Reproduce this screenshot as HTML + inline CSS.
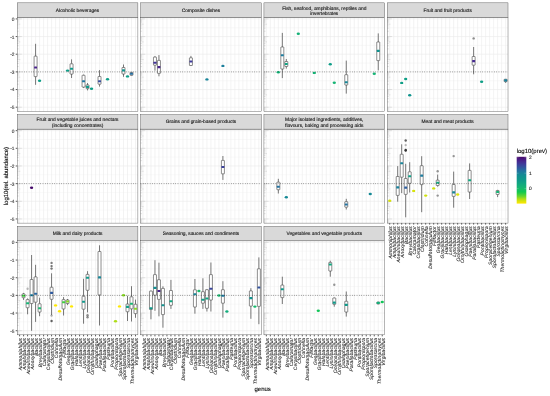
<!DOCTYPE html>
<html lang="en"><head><meta charset="utf-8"><title>log10(rel. abundance) by genus</title>
<style>html,body{margin:0;padding:0;background:#fff}svg{display:block;filter:blur(.2px)}text{font-family:"Liberation Sans",Arial,Helvetica,sans-serif;fill:#000;text-rendering:geometricPrecision}.st{font-size:4.85px;fill:#1a1a1a;stroke:#1a1a1a;stroke-width:.13;text-anchor:middle}.yt{font-size:4.8px;fill:#444;stroke:#444;stroke-width:.13;text-anchor:end}.xt{font-size:4.9px;letter-spacing:.14px;font-style:italic;fill:#222;stroke:#222;stroke-width:.07;text-anchor:end}.at{font-size:6px;text-anchor:middle;stroke:#000;stroke-width:.1}.lt{font-size:6px;stroke:#000;stroke-width:.1}.ll{font-size:4.8px;fill:#111;stroke:#111;stroke-width:.08}.gM{stroke:#ebebeb;stroke-width:.58}.gm{stroke:#ebebeb;stroke-width:.29}.bx{fill:#fff;stroke:#333;stroke-width:.56}.wh{stroke:#333;stroke-width:.66}.tk{stroke:#333;stroke-width:.8}.lg{stroke:#bdbdbd;stroke-width:.4}</style></head><body>
<svg width="550" height="396" viewBox="0 0 550 396">
<rect width="550" height="396" fill="#fff"/>
<defs><linearGradient id="vg" x1="0" y1="0" x2="0" y2="1">
<stop offset="0.00" stop-color="#45096a"/>
<stop offset="0.05" stop-color="#491981"/>
<stop offset="0.10" stop-color="#462990"/>
<stop offset="0.15" stop-color="#3f3a9a"/>
<stop offset="0.20" stop-color="#364c9d"/>
<stop offset="0.25" stop-color="#2d5e9f"/>
<stop offset="0.30" stop-color="#2372a0"/>
<stop offset="0.35" stop-color="#1a819b"/>
<stop offset="0.40" stop-color="#128e92"/>
<stop offset="0.45" stop-color="#10948d"/>
<stop offset="0.50" stop-color="#0f9a8a"/>
<stop offset="0.55" stop-color="#10a384"/>
<stop offset="0.60" stop-color="#12ac7c"/>
<stop offset="0.65" stop-color="#16b474"/>
<stop offset="0.70" stop-color="#15be64"/>
<stop offset="0.75" stop-color="#10c850"/>
<stop offset="0.80" stop-color="#3ccf3e"/>
<stop offset="0.85" stop-color="#6dd62c"/>
<stop offset="0.90" stop-color="#aedd18"/>
<stop offset="0.95" stop-color="#dde30a"/>
<stop offset="1.00" stop-color="#ffe800"/>
</linearGradient></defs>
<g>
<rect x="17.20" y="17.35" width="120.70" height="94.00" fill="#fff"/>
<path class="gm" d="M17.20 27.73h120.70M17.20 45.39h120.70M17.20 63.05h120.70M17.20 80.71h120.70M17.20 98.37h120.70"/>
<path class="gM" d="M17.20 18.90h120.70M17.20 36.56h120.70M17.20 54.22h120.70M17.20 71.88h120.70M17.20 89.54h120.70M17.20 107.20h120.70M19.60 17.35v94.00M23.59 17.35v94.00M27.59 17.35v94.00M31.59 17.35v94.00M35.58 17.35v94.00M39.58 17.35v94.00M43.58 17.35v94.00M47.57 17.35v94.00M51.57 17.35v94.00M55.57 17.35v94.00M59.56 17.35v94.00M63.56 17.35v94.00M67.56 17.35v94.00M71.55 17.35v94.00M75.55 17.35v94.00M79.55 17.35v94.00M83.55 17.35v94.00M87.54 17.35v94.00M91.54 17.35v94.00M95.54 17.35v94.00M99.53 17.35v94.00M103.53 17.35v94.00M107.53 17.35v94.00M111.52 17.35v94.00M115.52 17.35v94.00M119.52 17.35v94.00M123.51 17.35v94.00M127.51 17.35v94.00M131.51 17.35v94.00M135.50 17.35v94.00"/>
<path class="lg" d="M17.20 18.90h4.60M17.20 31.24h1.55M17.20 28.13h1.55M17.20 25.93h1.55M17.20 24.22h3.10M17.20 22.82h1.55M17.20 21.64h1.55M17.20 20.61h1.55M17.20 19.71h1.55M17.20 36.56h4.60M17.20 48.90h1.55M17.20 45.79h1.55M17.20 43.59h1.55M17.20 41.88h3.10M17.20 40.48h1.55M17.20 39.30h1.55M17.20 38.27h1.55M17.20 37.37h1.55M17.20 54.22h4.60M17.20 66.56h1.55M17.20 63.45h1.55M17.20 61.25h1.55M17.20 59.54h3.10M17.20 58.14h1.55M17.20 56.96h1.55M17.20 55.93h1.55M17.20 55.03h1.55M17.20 71.88h4.60M17.20 84.22h1.55M17.20 81.11h1.55M17.20 78.91h1.55M17.20 77.20h3.10M17.20 75.80h1.55M17.20 74.62h1.55M17.20 73.59h1.55M17.20 72.69h1.55M17.20 89.54h4.60M17.20 101.88h1.55M17.20 98.77h1.55M17.20 96.57h1.55M17.20 94.86h3.10M17.20 93.46h1.55M17.20 92.28h1.55M17.20 91.25h1.55M17.20 90.35h1.55M17.20 107.20h4.60M17.20 111.12h1.55M17.20 109.94h1.55M17.20 108.91h1.55M17.20 108.01h1.55"/>
<path class="wh" d="M35.58 43.80V56.20M35.58 76.60V84.80"/>
<rect class="bx" x="34.08" y="56.20" width="3.00" height="20.40" rx=".3"/>
<rect x="34.13" y="66.45" width="2.90" height="2.1" rx=".5" fill="#49228c"/>
<ellipse cx="39.58" cy="80.80" rx="1.65" ry="1.2" fill="#0f9e88"/>
<ellipse cx="67.56" cy="70.60" rx="1.65" ry="1.2" fill="#0f9e88"/>
<path class="wh" d="M71.55 59.40V63.80M71.55 74.10V78.00"/>
<rect class="bx" x="70.05" y="63.80" width="3.00" height="10.30" rx=".3"/>
<rect x="70.10" y="67.65" width="2.90" height="2.1" rx=".5" fill="#0f9a8a"/>
<path class="wh" d="M83.55 74.60V75.30M83.55 87.10V87.80"/>
<rect class="bx" x="82.05" y="75.30" width="3.00" height="11.80" rx=".3"/>
<rect x="82.10" y="80.25" width="2.90" height="2.1" rx=".5" fill="#2176a0"/>
<path class="wh" d="M87.54 83.00V84.90M87.54 88.60V90.40"/>
<rect class="bx" x="86.04" y="84.90" width="3.00" height="3.70" rx=".3"/>
<rect x="86.09" y="85.85" width="2.90" height="2.1" rx=".5" fill="#0f9a8a"/>
<ellipse cx="91.54" cy="88.80" rx="1.65" ry="1.2" fill="#0f9e88"/>
<path class="wh" d="M99.53 70.10V76.50M99.53 84.20V86.60"/>
<rect class="bx" x="98.03" y="76.50" width="3.00" height="7.70" rx=".3"/>
<rect x="98.08" y="80.15" width="2.90" height="2.1" rx=".5" fill="#364c9d"/>
<ellipse cx="107.53" cy="79.30" rx="1.65" ry="1.2" fill="#0f9e88"/>
<path class="wh" d="M123.51 64.50V67.50M123.51 74.00V76.80"/>
<rect class="bx" x="122.01" y="67.50" width="3.00" height="6.50" rx=".3"/>
<rect x="122.06" y="69.35" width="2.90" height="2.1" rx=".5" fill="#10948d"/>
<ellipse cx="127.51" cy="76.40" rx="1.65" ry="1.2" fill="#0f9e88"/>
<path class="wh" d="M131.51 72.00V72.40M131.51 75.30V75.70"/>
<rect class="bx" x="130.01" y="72.40" width="3.00" height="2.90" rx=".3"/>
<rect x="130.06" y="72.65" width="2.90" height="2.1" rx=".5" fill="#256ea0"/>
<path d="M17.20 71.88h120.70" stroke="#000" stroke-width=".58" stroke-dasharray=".58 1.74" fill="none"/>
<rect x="17.20" y="17.35" width="120.70" height="94.00" fill="none" stroke="#333" stroke-width=".36"/>
<rect x="17.20" y="2.85" width="120.70" height="14.50" fill="#d9d9d9" stroke="#333" stroke-width=".36"/>
<text class="st" x="77.55" y="11.70">Alcoholic beverages</text>
<text class="yt" x="14.50" y="20.85">0</text>
<text class="yt" x="14.50" y="38.51">-1</text>
<text class="yt" x="14.50" y="56.17">-2</text>
<text class="yt" x="14.50" y="73.83">-3</text>
<text class="yt" x="14.50" y="91.49">-4</text>
<text class="yt" x="14.50" y="109.15">-5</text>
<path class="tk" d="M17.20 18.90h-1.5M17.20 36.56h-1.5M17.20 54.22h-1.5M17.20 71.88h-1.5M17.20 89.54h-1.5M17.20 107.20h-1.5"/>
</g>
<g>
<rect x="140.57" y="17.35" width="120.70" height="94.00" fill="#fff"/>
<path class="gm" d="M140.57 27.73h120.70M140.57 45.39h120.70M140.57 63.05h120.70M140.57 80.71h120.70M140.57 98.37h120.70"/>
<path class="gM" d="M140.57 18.90h120.70M140.57 36.56h120.70M140.57 54.22h120.70M140.57 71.88h120.70M140.57 89.54h120.70M140.57 107.20h120.70M142.97 17.35v94.00M146.96 17.35v94.00M150.96 17.35v94.00M154.96 17.35v94.00M158.95 17.35v94.00M162.95 17.35v94.00M166.95 17.35v94.00M170.94 17.35v94.00M174.94 17.35v94.00M178.94 17.35v94.00M182.93 17.35v94.00M186.93 17.35v94.00M190.93 17.35v94.00M194.92 17.35v94.00M198.92 17.35v94.00M202.92 17.35v94.00M206.92 17.35v94.00M210.91 17.35v94.00M214.91 17.35v94.00M218.91 17.35v94.00M222.90 17.35v94.00M226.90 17.35v94.00M230.90 17.35v94.00M234.89 17.35v94.00M238.89 17.35v94.00M242.89 17.35v94.00M246.88 17.35v94.00M250.88 17.35v94.00M254.88 17.35v94.00M258.87 17.35v94.00"/>
<path class="lg" d="M140.57 18.90h4.60M140.57 31.24h1.55M140.57 28.13h1.55M140.57 25.93h1.55M140.57 24.22h3.10M140.57 22.82h1.55M140.57 21.64h1.55M140.57 20.61h1.55M140.57 19.71h1.55M140.57 36.56h4.60M140.57 48.90h1.55M140.57 45.79h1.55M140.57 43.59h1.55M140.57 41.88h3.10M140.57 40.48h1.55M140.57 39.30h1.55M140.57 38.27h1.55M140.57 37.37h1.55M140.57 54.22h4.60M140.57 66.56h1.55M140.57 63.45h1.55M140.57 61.25h1.55M140.57 59.54h3.10M140.57 58.14h1.55M140.57 56.96h1.55M140.57 55.93h1.55M140.57 55.03h1.55M140.57 71.88h4.60M140.57 84.22h1.55M140.57 81.11h1.55M140.57 78.91h1.55M140.57 77.20h3.10M140.57 75.80h1.55M140.57 74.62h1.55M140.57 73.59h1.55M140.57 72.69h1.55M140.57 89.54h4.60M140.57 101.88h1.55M140.57 98.77h1.55M140.57 96.57h1.55M140.57 94.86h3.10M140.57 93.46h1.55M140.57 92.28h1.55M140.57 91.25h1.55M140.57 90.35h1.55M140.57 107.20h4.60M140.57 111.12h1.55M140.57 109.94h1.55M140.57 108.91h1.55M140.57 108.01h1.55"/>
<path class="wh" d="M154.96 56.20V57.10M154.96 65.20V70.60"/>
<rect class="bx" x="153.46" y="57.10" width="3.00" height="8.10" rx=".3"/>
<rect x="153.51" y="61.65" width="2.90" height="2.1" rx=".5" fill="#423396"/>
<path class="wh" d="M158.95 55.10V60.40M158.95 73.40V76.30"/>
<rect class="bx" x="157.45" y="60.40" width="3.00" height="13.00" rx=".3"/>
<rect x="157.50" y="66.05" width="2.90" height="2.1" rx=".5" fill="#49228c"/>
<path class="wh" d="M190.93 55.90V57.80M190.93 65.50V65.90"/>
<rect class="bx" x="189.43" y="57.80" width="3.00" height="7.70" rx=".3"/>
<rect x="189.48" y="60.45" width="2.90" height="2.1" rx=".5" fill="#3f3a9a"/>
<ellipse cx="206.92" cy="79.40" rx="1.65" ry="1.2" fill="#188499"/>
<ellipse cx="222.90" cy="65.90" rx="1.65" ry="1.2" fill="#1c7f9c"/>
<path d="M140.57 71.88h120.70" stroke="#000" stroke-width=".58" stroke-dasharray=".58 1.74" fill="none"/>
<rect x="140.57" y="17.35" width="120.70" height="94.00" fill="none" stroke="#333" stroke-width=".36"/>
<rect x="140.57" y="2.85" width="120.70" height="14.50" fill="#d9d9d9" stroke="#333" stroke-width=".36"/>
<text class="st" x="200.92" y="11.70">Composite dishes</text>
</g>
<g>
<rect x="263.94" y="17.35" width="120.70" height="94.00" fill="#fff"/>
<path class="gm" d="M263.94 27.73h120.70M263.94 45.39h120.70M263.94 63.05h120.70M263.94 80.71h120.70M263.94 98.37h120.70"/>
<path class="gM" d="M263.94 18.90h120.70M263.94 36.56h120.70M263.94 54.22h120.70M263.94 71.88h120.70M263.94 89.54h120.70M263.94 107.20h120.70M266.34 17.35v94.00M270.33 17.35v94.00M274.33 17.35v94.00M278.33 17.35v94.00M282.32 17.35v94.00M286.32 17.35v94.00M290.32 17.35v94.00M294.31 17.35v94.00M298.31 17.35v94.00M302.31 17.35v94.00M306.30 17.35v94.00M310.30 17.35v94.00M314.30 17.35v94.00M318.29 17.35v94.00M322.29 17.35v94.00M326.29 17.35v94.00M330.29 17.35v94.00M334.28 17.35v94.00M338.28 17.35v94.00M342.28 17.35v94.00M346.27 17.35v94.00M350.27 17.35v94.00M354.27 17.35v94.00M358.26 17.35v94.00M362.26 17.35v94.00M366.26 17.35v94.00M370.25 17.35v94.00M374.25 17.35v94.00M378.25 17.35v94.00M382.24 17.35v94.00"/>
<path class="lg" d="M263.94 18.90h4.60M263.94 31.24h1.55M263.94 28.13h1.55M263.94 25.93h1.55M263.94 24.22h3.10M263.94 22.82h1.55M263.94 21.64h1.55M263.94 20.61h1.55M263.94 19.71h1.55M263.94 36.56h4.60M263.94 48.90h1.55M263.94 45.79h1.55M263.94 43.59h1.55M263.94 41.88h3.10M263.94 40.48h1.55M263.94 39.30h1.55M263.94 38.27h1.55M263.94 37.37h1.55M263.94 54.22h4.60M263.94 66.56h1.55M263.94 63.45h1.55M263.94 61.25h1.55M263.94 59.54h3.10M263.94 58.14h1.55M263.94 56.96h1.55M263.94 55.93h1.55M263.94 55.03h1.55M263.94 71.88h4.60M263.94 84.22h1.55M263.94 81.11h1.55M263.94 78.91h1.55M263.94 77.20h3.10M263.94 75.80h1.55M263.94 74.62h1.55M263.94 73.59h1.55M263.94 72.69h1.55M263.94 89.54h4.60M263.94 101.88h1.55M263.94 98.77h1.55M263.94 96.57h1.55M263.94 94.86h3.10M263.94 93.46h1.55M263.94 92.28h1.55M263.94 91.25h1.55M263.94 90.35h1.55M263.94 107.20h4.60M263.94 111.12h1.55M263.94 109.94h1.55M263.94 108.91h1.55M263.94 108.01h1.55"/>
<ellipse cx="278.33" cy="72.20" rx="1.65" ry="1.2" fill="#14b177"/>
<path class="wh" d="M282.32 32.90V47.00M282.32 69.00V78.10"/>
<rect class="bx" x="280.82" y="47.00" width="3.00" height="22.00" rx=".3"/>
<rect x="280.87" y="54.15" width="2.90" height="2.1" rx=".5" fill="#1d7c9e"/>
<path class="wh" d="M286.32 59.00V61.50M286.32 66.50V68.60"/>
<rect class="bx" x="284.82" y="61.50" width="3.00" height="5.00" rx=".3"/>
<rect x="284.87" y="62.95" width="2.90" height="2.1" rx=".5" fill="#10a384"/>
<ellipse cx="298.31" cy="33.80" rx="1.65" ry="1.2" fill="#14b177"/>
<ellipse cx="314.30" cy="72.90" rx="1.65" ry="1.2" fill="#15b375"/>
<ellipse cx="330.29" cy="64.30" rx="1.65" ry="1.2" fill="#0f9e88"/>
<ellipse cx="334.28" cy="82.70" rx="1.65" ry="1.2" fill="#16b474"/>
<path class="wh" d="M346.27 60.60V74.70M346.27 85.00V93.60"/>
<rect class="bx" x="344.77" y="74.70" width="3.00" height="10.30" rx=".3"/>
<rect x="344.82" y="81.15" width="2.90" height="2.1" rx=".5" fill="#178697"/>
<ellipse cx="374.25" cy="73.80" rx="1.65" ry="1.2" fill="#15b375"/>
<path class="wh" d="M378.25 33.40V42.00M378.25 60.60V70.40"/>
<rect class="bx" x="376.75" y="42.00" width="3.00" height="18.60" rx=".3"/>
<rect x="376.80" y="49.85" width="2.90" height="2.1" rx=".5" fill="#10928f"/>
<path d="M263.94 71.88h120.70" stroke="#000" stroke-width=".58" stroke-dasharray=".58 1.74" fill="none"/>
<rect x="263.94" y="17.35" width="120.70" height="94.00" fill="none" stroke="#333" stroke-width=".36"/>
<rect x="263.94" y="2.85" width="120.70" height="14.50" fill="#d9d9d9" stroke="#333" stroke-width=".36"/>
<text class="st" x="324.29" y="9.65">Fish, seafood, amphibians, reptiles and</text>
<text class="st" x="324.29" y="14.80">invertebrates</text>
</g>
<g>
<rect x="387.31" y="17.35" width="120.70" height="94.00" fill="#fff"/>
<path class="gm" d="M387.31 27.73h120.70M387.31 45.39h120.70M387.31 63.05h120.70M387.31 80.71h120.70M387.31 98.37h120.70"/>
<path class="gM" d="M387.31 18.90h120.70M387.31 36.56h120.70M387.31 54.22h120.70M387.31 71.88h120.70M387.31 89.54h120.70M387.31 107.20h120.70M389.71 17.35v94.00M393.70 17.35v94.00M397.70 17.35v94.00M401.70 17.35v94.00M405.69 17.35v94.00M409.69 17.35v94.00M413.69 17.35v94.00M417.68 17.35v94.00M421.68 17.35v94.00M425.68 17.35v94.00M429.67 17.35v94.00M433.67 17.35v94.00M437.67 17.35v94.00M441.66 17.35v94.00M445.66 17.35v94.00M449.66 17.35v94.00M453.66 17.35v94.00M457.65 17.35v94.00M461.65 17.35v94.00M465.65 17.35v94.00M469.64 17.35v94.00M473.64 17.35v94.00M477.64 17.35v94.00M481.63 17.35v94.00M485.63 17.35v94.00M489.63 17.35v94.00M493.62 17.35v94.00M497.62 17.35v94.00M501.62 17.35v94.00M505.61 17.35v94.00"/>
<path class="lg" d="M387.31 18.90h4.60M387.31 31.24h1.55M387.31 28.13h1.55M387.31 25.93h1.55M387.31 24.22h3.10M387.31 22.82h1.55M387.31 21.64h1.55M387.31 20.61h1.55M387.31 19.71h1.55M387.31 36.56h4.60M387.31 48.90h1.55M387.31 45.79h1.55M387.31 43.59h1.55M387.31 41.88h3.10M387.31 40.48h1.55M387.31 39.30h1.55M387.31 38.27h1.55M387.31 37.37h1.55M387.31 54.22h4.60M387.31 66.56h1.55M387.31 63.45h1.55M387.31 61.25h1.55M387.31 59.54h3.10M387.31 58.14h1.55M387.31 56.96h1.55M387.31 55.93h1.55M387.31 55.03h1.55M387.31 71.88h4.60M387.31 84.22h1.55M387.31 81.11h1.55M387.31 78.91h1.55M387.31 77.20h3.10M387.31 75.80h1.55M387.31 74.62h1.55M387.31 73.59h1.55M387.31 72.69h1.55M387.31 89.54h4.60M387.31 101.88h1.55M387.31 98.77h1.55M387.31 96.57h1.55M387.31 94.86h3.10M387.31 93.46h1.55M387.31 92.28h1.55M387.31 91.25h1.55M387.31 90.35h1.55M387.31 107.20h4.60M387.31 111.12h1.55M387.31 109.94h1.55M387.31 108.91h1.55M387.31 108.01h1.55"/>
<ellipse cx="401.70" cy="82.90" rx="1.65" ry="1.2" fill="#0f9f86"/>
<ellipse cx="405.69" cy="79.00" rx="1.65" ry="1.2" fill="#0f9f86"/>
<ellipse cx="409.69" cy="95.20" rx="1.65" ry="1.2" fill="#10948d"/>
<circle cx="473.64" cy="38.40" r="1.2" fill="#333" fill-opacity="0.55"/>
<path class="wh" d="M473.64 47.00V56.50M473.64 65.20V74.30"/>
<rect class="bx" x="472.14" y="56.50" width="3.00" height="8.70" rx=".3"/>
<rect x="472.19" y="60.05" width="2.90" height="2.1" rx=".5" fill="#462990"/>
<ellipse cx="481.63" cy="81.80" rx="1.65" ry="1.2" fill="#0f9f86"/>
<path class="wh" d="M505.61 78.90V79.30M505.61 81.60V82.90"/>
<rect class="bx" x="504.11" y="79.30" width="3.00" height="2.30" rx=".3"/>
<rect x="504.16" y="79.35" width="2.90" height="2.1" rx=".5" fill="#1a819b"/>
<path d="M387.31 71.88h120.70" stroke="#000" stroke-width=".58" stroke-dasharray=".58 1.74" fill="none"/>
<rect x="387.31" y="17.35" width="120.70" height="94.00" fill="none" stroke="#333" stroke-width=".36"/>
<rect x="387.31" y="2.85" width="120.70" height="14.50" fill="#d9d9d9" stroke="#333" stroke-width=".36"/>
<text class="st" x="447.66" y="11.70">Fruit and fruit products</text>
</g>
<g>
<rect x="17.20" y="129.10" width="120.70" height="94.00" fill="#fff"/>
<path class="gm" d="M17.20 139.48h120.70M17.20 157.14h120.70M17.20 174.80h120.70M17.20 192.46h120.70M17.20 210.12h120.70"/>
<path class="gM" d="M17.20 130.65h120.70M17.20 148.31h120.70M17.20 165.97h120.70M17.20 183.63h120.70M17.20 201.29h120.70M17.20 218.95h120.70M19.60 129.10v94.00M23.59 129.10v94.00M27.59 129.10v94.00M31.59 129.10v94.00M35.58 129.10v94.00M39.58 129.10v94.00M43.58 129.10v94.00M47.57 129.10v94.00M51.57 129.10v94.00M55.57 129.10v94.00M59.56 129.10v94.00M63.56 129.10v94.00M67.56 129.10v94.00M71.55 129.10v94.00M75.55 129.10v94.00M79.55 129.10v94.00M83.55 129.10v94.00M87.54 129.10v94.00M91.54 129.10v94.00M95.54 129.10v94.00M99.53 129.10v94.00M103.53 129.10v94.00M107.53 129.10v94.00M111.52 129.10v94.00M115.52 129.10v94.00M119.52 129.10v94.00M123.51 129.10v94.00M127.51 129.10v94.00M131.51 129.10v94.00M135.50 129.10v94.00"/>
<path class="lg" d="M17.20 130.65h4.60M17.20 142.99h1.55M17.20 139.88h1.55M17.20 137.68h1.55M17.20 135.97h3.10M17.20 134.57h1.55M17.20 133.39h1.55M17.20 132.36h1.55M17.20 131.46h1.55M17.20 148.31h4.60M17.20 160.65h1.55M17.20 157.54h1.55M17.20 155.34h1.55M17.20 153.63h3.10M17.20 152.23h1.55M17.20 151.05h1.55M17.20 150.02h1.55M17.20 149.12h1.55M17.20 165.97h4.60M17.20 178.31h1.55M17.20 175.20h1.55M17.20 173.00h1.55M17.20 171.29h3.10M17.20 169.89h1.55M17.20 168.71h1.55M17.20 167.68h1.55M17.20 166.78h1.55M17.20 183.63h4.60M17.20 195.97h1.55M17.20 192.86h1.55M17.20 190.66h1.55M17.20 188.95h3.10M17.20 187.55h1.55M17.20 186.37h1.55M17.20 185.34h1.55M17.20 184.44h1.55M17.20 201.29h4.60M17.20 213.63h1.55M17.20 210.52h1.55M17.20 208.32h1.55M17.20 206.61h3.10M17.20 205.21h1.55M17.20 204.03h1.55M17.20 203.00h1.55M17.20 202.10h1.55M17.20 218.95h4.60M17.20 222.87h1.55M17.20 221.69h1.55M17.20 220.66h1.55M17.20 219.76h1.55"/>
<ellipse cx="31.59" cy="187.80" rx="1.65" ry="1.2" fill="#45096a"/>
<path d="M17.20 183.63h120.70" stroke="#000" stroke-width=".58" stroke-dasharray=".58 1.74" fill="none"/>
<rect x="17.20" y="129.10" width="120.70" height="94.00" fill="none" stroke="#333" stroke-width=".36"/>
<rect x="17.20" y="114.60" width="120.70" height="14.50" fill="#d9d9d9" stroke="#333" stroke-width=".36"/>
<text class="st" x="77.55" y="121.40">Fruit and vegetable juices and nectars</text>
<text class="st" x="77.55" y="126.55">(including concentrates)</text>
<text class="yt" x="14.50" y="132.60">0</text>
<text class="yt" x="14.50" y="150.26">-1</text>
<text class="yt" x="14.50" y="167.92">-2</text>
<text class="yt" x="14.50" y="185.58">-3</text>
<text class="yt" x="14.50" y="203.24">-4</text>
<text class="yt" x="14.50" y="220.90">-5</text>
<path class="tk" d="M17.20 130.65h-1.5M17.20 148.31h-1.5M17.20 165.97h-1.5M17.20 183.63h-1.5M17.20 201.29h-1.5M17.20 218.95h-1.5"/>
</g>
<g>
<rect x="140.57" y="129.10" width="120.70" height="94.00" fill="#fff"/>
<path class="gm" d="M140.57 139.48h120.70M140.57 157.14h120.70M140.57 174.80h120.70M140.57 192.46h120.70M140.57 210.12h120.70"/>
<path class="gM" d="M140.57 130.65h120.70M140.57 148.31h120.70M140.57 165.97h120.70M140.57 183.63h120.70M140.57 201.29h120.70M140.57 218.95h120.70M142.97 129.10v94.00M146.96 129.10v94.00M150.96 129.10v94.00M154.96 129.10v94.00M158.95 129.10v94.00M162.95 129.10v94.00M166.95 129.10v94.00M170.94 129.10v94.00M174.94 129.10v94.00M178.94 129.10v94.00M182.93 129.10v94.00M186.93 129.10v94.00M190.93 129.10v94.00M194.92 129.10v94.00M198.92 129.10v94.00M202.92 129.10v94.00M206.92 129.10v94.00M210.91 129.10v94.00M214.91 129.10v94.00M218.91 129.10v94.00M222.90 129.10v94.00M226.90 129.10v94.00M230.90 129.10v94.00M234.89 129.10v94.00M238.89 129.10v94.00M242.89 129.10v94.00M246.88 129.10v94.00M250.88 129.10v94.00M254.88 129.10v94.00M258.87 129.10v94.00"/>
<path class="lg" d="M140.57 130.65h4.60M140.57 142.99h1.55M140.57 139.88h1.55M140.57 137.68h1.55M140.57 135.97h3.10M140.57 134.57h1.55M140.57 133.39h1.55M140.57 132.36h1.55M140.57 131.46h1.55M140.57 148.31h4.60M140.57 160.65h1.55M140.57 157.54h1.55M140.57 155.34h1.55M140.57 153.63h3.10M140.57 152.23h1.55M140.57 151.05h1.55M140.57 150.02h1.55M140.57 149.12h1.55M140.57 165.97h4.60M140.57 178.31h1.55M140.57 175.20h1.55M140.57 173.00h1.55M140.57 171.29h3.10M140.57 169.89h1.55M140.57 168.71h1.55M140.57 167.68h1.55M140.57 166.78h1.55M140.57 183.63h4.60M140.57 195.97h1.55M140.57 192.86h1.55M140.57 190.66h1.55M140.57 188.95h3.10M140.57 187.55h1.55M140.57 186.37h1.55M140.57 185.34h1.55M140.57 184.44h1.55M140.57 201.29h4.60M140.57 213.63h1.55M140.57 210.52h1.55M140.57 208.32h1.55M140.57 206.61h3.10M140.57 205.21h1.55M140.57 204.03h1.55M140.57 203.00h1.55M140.57 202.10h1.55M140.57 218.95h4.60M140.57 222.87h1.55M140.57 221.69h1.55M140.57 220.66h1.55M140.57 219.76h1.55"/>
<path class="wh" d="M222.90 156.00V160.40M222.90 173.80V179.90"/>
<rect class="bx" x="221.40" y="160.40" width="3.00" height="13.40" rx=".3"/>
<rect x="221.45" y="165.95" width="2.90" height="2.1" rx=".5" fill="#3b419b"/>
<path d="M140.57 183.63h120.70" stroke="#000" stroke-width=".58" stroke-dasharray=".58 1.74" fill="none"/>
<rect x="140.57" y="129.10" width="120.70" height="94.00" fill="none" stroke="#333" stroke-width=".36"/>
<rect x="140.57" y="114.60" width="120.70" height="14.50" fill="#d9d9d9" stroke="#333" stroke-width=".36"/>
<text class="st" x="200.92" y="123.45">Grains and grain-based products</text>
</g>
<g>
<rect x="263.94" y="129.10" width="120.70" height="94.00" fill="#fff"/>
<path class="gm" d="M263.94 139.48h120.70M263.94 157.14h120.70M263.94 174.80h120.70M263.94 192.46h120.70M263.94 210.12h120.70"/>
<path class="gM" d="M263.94 130.65h120.70M263.94 148.31h120.70M263.94 165.97h120.70M263.94 183.63h120.70M263.94 201.29h120.70M263.94 218.95h120.70M266.34 129.10v94.00M270.33 129.10v94.00M274.33 129.10v94.00M278.33 129.10v94.00M282.32 129.10v94.00M286.32 129.10v94.00M290.32 129.10v94.00M294.31 129.10v94.00M298.31 129.10v94.00M302.31 129.10v94.00M306.30 129.10v94.00M310.30 129.10v94.00M314.30 129.10v94.00M318.29 129.10v94.00M322.29 129.10v94.00M326.29 129.10v94.00M330.29 129.10v94.00M334.28 129.10v94.00M338.28 129.10v94.00M342.28 129.10v94.00M346.27 129.10v94.00M350.27 129.10v94.00M354.27 129.10v94.00M358.26 129.10v94.00M362.26 129.10v94.00M366.26 129.10v94.00M370.25 129.10v94.00M374.25 129.10v94.00M378.25 129.10v94.00M382.24 129.10v94.00"/>
<path class="lg" d="M263.94 130.65h4.60M263.94 142.99h1.55M263.94 139.88h1.55M263.94 137.68h1.55M263.94 135.97h3.10M263.94 134.57h1.55M263.94 133.39h1.55M263.94 132.36h1.55M263.94 131.46h1.55M263.94 148.31h4.60M263.94 160.65h1.55M263.94 157.54h1.55M263.94 155.34h1.55M263.94 153.63h3.10M263.94 152.23h1.55M263.94 151.05h1.55M263.94 150.02h1.55M263.94 149.12h1.55M263.94 165.97h4.60M263.94 178.31h1.55M263.94 175.20h1.55M263.94 173.00h1.55M263.94 171.29h3.10M263.94 169.89h1.55M263.94 168.71h1.55M263.94 167.68h1.55M263.94 166.78h1.55M263.94 183.63h4.60M263.94 195.97h1.55M263.94 192.86h1.55M263.94 190.66h1.55M263.94 188.95h3.10M263.94 187.55h1.55M263.94 186.37h1.55M263.94 185.34h1.55M263.94 184.44h1.55M263.94 201.29h4.60M263.94 213.63h1.55M263.94 210.52h1.55M263.94 208.32h1.55M263.94 206.61h3.10M263.94 205.21h1.55M263.94 204.03h1.55M263.94 203.00h1.55M263.94 202.10h1.55M263.94 218.95h4.60M263.94 222.87h1.55M263.94 221.69h1.55M263.94 220.66h1.55M263.94 219.76h1.55"/>
<path class="wh" d="M278.33 178.80V182.20M278.33 189.70V193.50"/>
<rect class="bx" x="276.83" y="182.20" width="3.00" height="7.50" rx=".3"/>
<rect x="276.88" y="185.65" width="2.90" height="2.1" rx=".5" fill="#2372a0"/>
<ellipse cx="286.32" cy="197.20" rx="1.65" ry="1.2" fill="#158995"/>
<path class="wh" d="M346.27 198.80V201.70M346.27 207.20V209.50"/>
<rect class="bx" x="344.77" y="201.70" width="3.00" height="5.50" rx=".3"/>
<rect x="344.82" y="203.45" width="2.90" height="2.1" rx=".5" fill="#2372a0"/>
<ellipse cx="370.25" cy="194.00" rx="1.65" ry="1.2" fill="#158995"/>
<path d="M263.94 183.63h120.70" stroke="#000" stroke-width=".58" stroke-dasharray=".58 1.74" fill="none"/>
<rect x="263.94" y="129.10" width="120.70" height="94.00" fill="none" stroke="#333" stroke-width=".36"/>
<rect x="263.94" y="114.60" width="120.70" height="14.50" fill="#d9d9d9" stroke="#333" stroke-width=".36"/>
<text class="st" x="324.29" y="121.40">Major isolated ingredients, additives,</text>
<text class="st" x="324.29" y="126.55">flavours, baking and processing aids</text>
</g>
<g>
<rect x="387.31" y="129.10" width="120.70" height="94.00" fill="#fff"/>
<path class="gm" d="M387.31 139.48h120.70M387.31 157.14h120.70M387.31 174.80h120.70M387.31 192.46h120.70M387.31 210.12h120.70"/>
<path class="gM" d="M387.31 130.65h120.70M387.31 148.31h120.70M387.31 165.97h120.70M387.31 183.63h120.70M387.31 201.29h120.70M387.31 218.95h120.70M389.71 129.10v94.00M393.70 129.10v94.00M397.70 129.10v94.00M401.70 129.10v94.00M405.69 129.10v94.00M409.69 129.10v94.00M413.69 129.10v94.00M417.68 129.10v94.00M421.68 129.10v94.00M425.68 129.10v94.00M429.67 129.10v94.00M433.67 129.10v94.00M437.67 129.10v94.00M441.66 129.10v94.00M445.66 129.10v94.00M449.66 129.10v94.00M453.66 129.10v94.00M457.65 129.10v94.00M461.65 129.10v94.00M465.65 129.10v94.00M469.64 129.10v94.00M473.64 129.10v94.00M477.64 129.10v94.00M481.63 129.10v94.00M485.63 129.10v94.00M489.63 129.10v94.00M493.62 129.10v94.00M497.62 129.10v94.00M501.62 129.10v94.00M505.61 129.10v94.00"/>
<path class="lg" d="M387.31 130.65h4.60M387.31 142.99h1.55M387.31 139.88h1.55M387.31 137.68h1.55M387.31 135.97h3.10M387.31 134.57h1.55M387.31 133.39h1.55M387.31 132.36h1.55M387.31 131.46h1.55M387.31 148.31h4.60M387.31 160.65h1.55M387.31 157.54h1.55M387.31 155.34h1.55M387.31 153.63h3.10M387.31 152.23h1.55M387.31 151.05h1.55M387.31 150.02h1.55M387.31 149.12h1.55M387.31 165.97h4.60M387.31 178.31h1.55M387.31 175.20h1.55M387.31 173.00h1.55M387.31 171.29h3.10M387.31 169.89h1.55M387.31 168.71h1.55M387.31 167.68h1.55M387.31 166.78h1.55M387.31 183.63h4.60M387.31 195.97h1.55M387.31 192.86h1.55M387.31 190.66h1.55M387.31 188.95h3.10M387.31 187.55h1.55M387.31 186.37h1.55M387.31 185.34h1.55M387.31 184.44h1.55M387.31 201.29h4.60M387.31 213.63h1.55M387.31 210.52h1.55M387.31 208.32h1.55M387.31 206.61h3.10M387.31 205.21h1.55M387.31 204.03h1.55M387.31 203.00h1.55M387.31 202.10h1.55M387.31 218.95h4.60M387.31 222.87h1.55M387.31 221.69h1.55M387.31 220.66h1.55M387.31 219.76h1.55"/>
<ellipse cx="389.71" cy="200.70" rx="1.65" ry="1.2" fill="#d6e20c"/>
<path class="wh" d="M397.70 166.10V176.50M397.70 195.40V201.70"/>
<rect class="bx" x="396.20" y="176.50" width="3.00" height="18.90" rx=".3"/>
<rect x="396.25" y="186.35" width="2.90" height="2.1" rx=".5" fill="#1a819b"/>
<path class="wh" d="M401.70 144.30V154.30M401.70 177.20V193.10"/>
<rect class="bx" x="400.20" y="154.30" width="3.00" height="22.90" rx=".3"/>
<rect x="400.25" y="162.15" width="2.90" height="2.1" rx=".5" fill="#188499"/>
<circle cx="405.69" cy="140.50" r="1.2" fill="#333" fill-opacity="0.77"/>
<circle cx="405.69" cy="145.10" r="1.2" fill="#333" fill-opacity="0.33"/>
<circle cx="405.69" cy="150.00" r="1.2" fill="#333" fill-opacity="0.99"/>
<circle cx="405.69" cy="150.60" r="1.2" fill="#333" fill-opacity="0.99"/>
<path class="wh" d="M405.69 163.80V178.50M405.69 194.40V217.30"/>
<rect class="bx" x="404.19" y="178.50" width="3.00" height="15.90" rx=".3"/>
<rect x="404.24" y="186.55" width="2.90" height="2.1" rx=".5" fill="#2d5e9f"/>
<path class="wh" d="M409.69 162.20V171.80M409.69 183.30V192.50"/>
<rect class="bx" x="408.19" y="171.80" width="3.00" height="11.50" rx=".3"/>
<rect x="408.24" y="175.15" width="2.90" height="2.1" rx=".5" fill="#0f9f86"/>
<ellipse cx="413.69" cy="190.90" rx="1.65" ry="1.2" fill="#d6e20c"/>
<path class="wh" d="M421.68 156.20V165.70M421.68 184.60V212.20"/>
<rect class="bx" x="420.18" y="165.70" width="3.00" height="18.90" rx=".3"/>
<rect x="420.23" y="174.55" width="2.90" height="2.1" rx=".5" fill="#1d7c9e"/>
<ellipse cx="425.68" cy="195.60" rx="1.65" ry="1.2" fill="#cfe10e"/>
<ellipse cx="433.67" cy="188.40" rx="1.65" ry="1.2" fill="#cfe10e"/>
<circle cx="437.67" cy="171.20" r="1.2" fill="#333" fill-opacity="0.50"/>
<circle cx="437.67" cy="195.60" r="1.2" fill="#333" fill-opacity="0.50"/>
<path class="wh" d="M437.67 174.60V180.20M437.67 185.50V186.70"/>
<rect class="bx" x="436.17" y="180.20" width="3.00" height="5.30" rx=".3"/>
<rect x="436.22" y="181.65" width="2.90" height="2.1" rx=".5" fill="#10a681"/>
<circle cx="453.66" cy="156.10" r="1.2" fill="#333" fill-opacity="0.50"/>
<path class="wh" d="M453.66 171.60V184.50M453.66 196.40V207.70"/>
<rect class="bx" x="452.16" y="184.50" width="3.00" height="11.90" rx=".3"/>
<rect x="452.21" y="191.35" width="2.90" height="2.1" rx=".5" fill="#178697"/>
<ellipse cx="457.65" cy="194.50" rx="1.65" ry="1.2" fill="#dde30a"/>
<path class="wh" d="M469.64 163.40V170.40M469.64 192.00V199.00"/>
<rect class="bx" x="468.14" y="170.40" width="3.00" height="21.60" rx=".3"/>
<rect x="468.19" y="179.25" width="2.90" height="2.1" rx=".5" fill="#10a880"/>
<path class="wh" d="M497.62 189.80V190.50M497.62 194.50V197.10"/>
<rect class="bx" x="496.12" y="190.50" width="3.00" height="4.00" rx=".3"/>
<rect x="496.17" y="190.95" width="2.90" height="2.1" rx=".5" fill="#16b474"/>
<path d="M387.31 183.63h120.70" stroke="#000" stroke-width=".58" stroke-dasharray=".58 1.74" fill="none"/>
<rect x="387.31" y="129.10" width="120.70" height="94.00" fill="none" stroke="#333" stroke-width=".36"/>
<rect x="387.31" y="114.60" width="120.70" height="14.50" fill="#d9d9d9" stroke="#333" stroke-width=".36"/>
<text class="st" x="447.66" y="123.45">Meat and meat products</text>
<path class="tk" d="M389.71 223.10v1.5M393.70 223.10v1.5M397.70 223.10v1.5M401.70 223.10v1.5M405.69 223.10v1.5M409.69 223.10v1.5M413.69 223.10v1.5M417.68 223.10v1.5M421.68 223.10v1.5M425.68 223.10v1.5M429.67 223.10v1.5M433.67 223.10v1.5M437.67 223.10v1.5M441.66 223.10v1.5M445.66 223.10v1.5M449.66 223.10v1.5M453.66 223.10v1.5M457.65 223.10v1.5M461.65 223.10v1.5M465.65 223.10v1.5M469.64 223.10v1.5M473.64 223.10v1.5M477.64 223.10v1.5M481.63 223.10v1.5M485.63 223.10v1.5M489.63 223.10v1.5M493.62 223.10v1.5M497.62 223.10v1.5M501.62 223.10v1.5M505.61 223.10v1.5"/>
<text class="xt" transform="translate(392.26 226.10) rotate(-90)">Ammoniphilus</text>
<text class="xt" transform="translate(396.25 226.10) rotate(-90)">Amphibacillus</text>
<text class="xt" transform="translate(400.25 226.10) rotate(-90)">Aneurinibacillus</text>
<text class="xt" transform="translate(404.25 226.10) rotate(-90)">Anoxybacillus</text>
<text class="xt" transform="translate(408.24 226.10) rotate(-90)">Bacillus</text>
<text class="xt" transform="translate(412.24 226.10) rotate(-90)">Brevibacillus</text>
<text class="xt" transform="translate(416.24 226.10) rotate(-90)">Caloramator</text>
<text class="xt" transform="translate(420.23 226.10) rotate(-90)">Cerasibacillus</text>
<text class="xt" transform="translate(424.23 226.10) rotate(-90)">Clostridium</text>
<text class="xt" transform="translate(428.23 226.10) rotate(-90)">Cohnella</text>
<text class="xt" transform="translate(432.22 226.10) rotate(-90)">Desulfotomaculum</text>
<text class="xt" transform="translate(436.22 226.10) rotate(-90)">Filifactor</text>
<text class="xt" transform="translate(440.22 226.10) rotate(-90)">Geobacillus</text>
<text class="xt" transform="translate(444.21 226.10) rotate(-90)">Gracilibacillus</text>
<text class="xt" transform="translate(448.21 226.10) rotate(-90)">Halobacillus</text>
<text class="xt" transform="translate(452.21 226.10) rotate(-90)">Lentibacillus</text>
<text class="xt" transform="translate(456.21 226.10) rotate(-90)">Lysinibacillus</text>
<text class="xt" transform="translate(460.20 226.10) rotate(-90)">Oceanobacillus</text>
<text class="xt" transform="translate(464.20 226.10) rotate(-90)">Ornithinibacillus</text>
<text class="xt" transform="translate(468.20 226.10) rotate(-90)">Oxalophagus</text>
<text class="xt" transform="translate(472.19 226.10) rotate(-90)">Paenibacillus</text>
<text class="xt" transform="translate(476.19 226.10) rotate(-90)">Paraliobacillus</text>
<text class="xt" transform="translate(480.19 226.10) rotate(-90)">Pasteuria</text>
<text class="xt" transform="translate(484.18 226.10) rotate(-90)">Pontibacillus</text>
<text class="xt" transform="translate(488.18 226.10) rotate(-90)">Propionispora</text>
<text class="xt" transform="translate(492.18 226.10) rotate(-90)">Sporacetigenium</text>
<text class="xt" transform="translate(496.17 226.10) rotate(-90)">Sporolactobacillus</text>
<text class="xt" transform="translate(500.17 226.10) rotate(-90)">Sporosarcina</text>
<text class="xt" transform="translate(504.17 226.10) rotate(-90)">Thermoactinomyces</text>
<text class="xt" transform="translate(508.16 226.10) rotate(-90)">Virgibacillus</text>
</g>
<g>
<rect x="17.20" y="240.85" width="120.70" height="94.00" fill="#fff"/>
<path class="gm" d="M17.20 251.23h120.70M17.20 268.89h120.70M17.20 286.55h120.70M17.20 304.21h120.70M17.20 321.87h120.70"/>
<path class="gM" d="M17.20 242.40h120.70M17.20 260.06h120.70M17.20 277.72h120.70M17.20 295.38h120.70M17.20 313.04h120.70M17.20 330.70h120.70M19.60 240.85v94.00M23.59 240.85v94.00M27.59 240.85v94.00M31.59 240.85v94.00M35.58 240.85v94.00M39.58 240.85v94.00M43.58 240.85v94.00M47.57 240.85v94.00M51.57 240.85v94.00M55.57 240.85v94.00M59.56 240.85v94.00M63.56 240.85v94.00M67.56 240.85v94.00M71.55 240.85v94.00M75.55 240.85v94.00M79.55 240.85v94.00M83.55 240.85v94.00M87.54 240.85v94.00M91.54 240.85v94.00M95.54 240.85v94.00M99.53 240.85v94.00M103.53 240.85v94.00M107.53 240.85v94.00M111.52 240.85v94.00M115.52 240.85v94.00M119.52 240.85v94.00M123.51 240.85v94.00M127.51 240.85v94.00M131.51 240.85v94.00M135.50 240.85v94.00"/>
<path class="lg" d="M17.20 242.40h4.60M17.20 254.74h1.55M17.20 251.63h1.55M17.20 249.43h1.55M17.20 247.72h3.10M17.20 246.32h1.55M17.20 245.14h1.55M17.20 244.11h1.55M17.20 243.21h1.55M17.20 260.06h4.60M17.20 272.40h1.55M17.20 269.29h1.55M17.20 267.09h1.55M17.20 265.38h3.10M17.20 263.98h1.55M17.20 262.80h1.55M17.20 261.77h1.55M17.20 260.87h1.55M17.20 277.72h4.60M17.20 290.06h1.55M17.20 286.95h1.55M17.20 284.75h1.55M17.20 283.04h3.10M17.20 281.64h1.55M17.20 280.46h1.55M17.20 279.43h1.55M17.20 278.53h1.55M17.20 295.38h4.60M17.20 307.72h1.55M17.20 304.61h1.55M17.20 302.41h1.55M17.20 300.70h3.10M17.20 299.30h1.55M17.20 298.12h1.55M17.20 297.09h1.55M17.20 296.19h1.55M17.20 313.04h4.60M17.20 325.38h1.55M17.20 322.27h1.55M17.20 320.07h1.55M17.20 318.36h3.10M17.20 316.96h1.55M17.20 315.78h1.55M17.20 314.75h1.55M17.20 313.85h1.55M17.20 330.70h4.60M17.20 334.62h1.55M17.20 333.44h1.55M17.20 332.41h1.55M17.20 331.51h1.55"/>
<path class="wh" d="M23.59 292.90V293.90M23.59 297.70V300.00"/>
<rect class="bx" x="22.09" y="293.90" width="3.00" height="3.80" rx=".3"/>
<rect x="22.14" y="294.75" width="2.90" height="2.1" rx=".5" fill="#3ccf3e"/>
<circle cx="27.59" cy="288.70" r="1.2" fill="#333" fill-opacity="0.33"/>
<path class="wh" d="M27.59 298.40V299.60M27.59 307.70V314.30"/>
<rect class="bx" x="26.09" y="299.60" width="3.00" height="8.10" rx=".3"/>
<rect x="26.14" y="302.15" width="2.90" height="2.1" rx=".5" fill="#16b474"/>
<path class="wh" d="M31.59 255.00V279.50M31.59 303.50V330.80"/>
<rect class="bx" x="30.09" y="279.50" width="3.00" height="24.00" rx=".3"/>
<rect x="30.14" y="294.15" width="2.90" height="2.1" rx=".5" fill="#1d7c9e"/>
<path class="wh" d="M35.58 264.80V276.90M35.58 302.20V321.90"/>
<rect class="bx" x="34.08" y="276.90" width="3.00" height="25.30" rx=".3"/>
<rect x="34.13" y="292.65" width="2.90" height="2.1" rx=".5" fill="#29669f"/>
<path class="wh" d="M39.58 297.70V303.80M39.58 312.00V316.20"/>
<rect class="bx" x="38.08" y="303.80" width="3.00" height="8.20" rx=".3"/>
<rect x="38.13" y="307.15" width="2.90" height="2.1" rx=".5" fill="#18b870"/>
<circle cx="51.57" cy="262.90" r="1.2" fill="#333" fill-opacity="0.61"/>
<circle cx="51.57" cy="266.10" r="1.2" fill="#333" fill-opacity="0.66"/>
<circle cx="51.57" cy="268.60" r="1.2" fill="#333" fill-opacity="0.66"/>
<circle cx="51.57" cy="315.60" r="1.2" fill="#333" fill-opacity="0.39"/>
<circle cx="51.57" cy="321.00" r="1.2" fill="#333" fill-opacity="0.77"/>
<path class="wh" d="M51.57 273.30V287.30M51.57 299.30V315.00"/>
<rect class="bx" x="50.07" y="287.30" width="3.00" height="12.00" rx=".3"/>
<rect x="50.12" y="291.85" width="2.90" height="2.1" rx=".5" fill="#2f5a9f"/>
<ellipse cx="55.57" cy="305.40" rx="1.65" ry="1.2" fill="#ffe800"/>
<ellipse cx="59.56" cy="311.30" rx="1.65" ry="1.2" fill="#ffe800"/>
<path class="wh" d="M63.56 297.10V299.60M63.56 308.90V315.50"/>
<rect class="bx" x="62.06" y="299.60" width="3.00" height="9.30" rx=".3"/>
<rect x="62.11" y="301.15" width="2.90" height="2.1" rx=".5" fill="#3ccf3e"/>
<path class="wh" d="M67.56 299.00V300.00M67.56 303.50V305.10"/>
<rect class="bx" x="66.06" y="300.00" width="3.00" height="3.50" rx=".3"/>
<rect x="66.11" y="300.45" width="2.90" height="2.1" rx=".5" fill="#87d924"/>
<ellipse cx="71.55" cy="306.40" rx="1.65" ry="1.2" fill="#ffe800"/>
<path class="wh" d="M83.55 278.80V296.30M83.55 309.20V323.70"/>
<rect class="bx" x="82.05" y="296.30" width="3.00" height="12.90" rx=".3"/>
<rect x="82.10" y="300.75" width="2.90" height="2.1" rx=".5" fill="#0f988b"/>
<circle cx="87.54" cy="315.20" r="1.2" fill="#333" fill-opacity="0.55"/>
<circle cx="87.54" cy="317.20" r="1.2" fill="#333" fill-opacity="0.55"/>
<path class="wh" d="M87.54 271.20V274.40M87.54 290.30V312.40"/>
<rect class="bx" x="86.04" y="274.40" width="3.00" height="15.90" rx=".3"/>
<rect x="86.09" y="276.65" width="2.90" height="2.1" rx=".5" fill="#0f998b"/>
<path class="wh" d="M99.53 245.30V251.50M99.53 294.90V325.50"/>
<rect class="bx" x="98.03" y="251.50" width="3.00" height="43.40" rx=".3"/>
<rect x="98.08" y="276.35" width="2.90" height="2.1" rx=".5" fill="#178697"/>
<ellipse cx="115.52" cy="321.30" rx="1.65" ry="1.2" fill="#aedd18"/>
<ellipse cx="119.52" cy="306.40" rx="1.65" ry="1.2" fill="#ffe800"/>
<ellipse cx="123.51" cy="295.20" rx="1.65" ry="1.2" fill="#87d924"/>
<path class="wh" d="M127.51 295.80V304.10M127.51 311.70V321.00"/>
<rect class="bx" x="126.01" y="304.10" width="3.00" height="7.60" rx=".3"/>
<rect x="126.06" y="305.85" width="2.90" height="2.1" rx=".5" fill="#0f9f86"/>
<path class="wh" d="M131.51 286.20V296.80M131.51 308.80V321.50"/>
<rect class="bx" x="130.01" y="296.80" width="3.00" height="12.00" rx=".3"/>
<rect x="130.06" y="302.65" width="2.90" height="2.1" rx=".5" fill="#16b474"/>
<path class="wh" d="M135.50 299.60V304.30M135.50 313.60V317.80"/>
<rect class="bx" x="134.00" y="304.30" width="3.00" height="9.30" rx=".3"/>
<rect x="134.05" y="307.75" width="2.90" height="2.1" rx=".5" fill="#87d924"/>
<path d="M17.20 295.38h120.70" stroke="#000" stroke-width=".58" stroke-dasharray=".58 1.74" fill="none"/>
<rect x="17.20" y="240.85" width="120.70" height="94.00" fill="none" stroke="#333" stroke-width=".36"/>
<rect x="17.20" y="226.35" width="120.70" height="14.50" fill="#d9d9d9" stroke="#333" stroke-width=".36"/>
<text class="st" x="77.55" y="235.20">Milk and dairy products</text>
<text class="yt" x="14.50" y="244.35">0</text>
<text class="yt" x="14.50" y="262.01">-1</text>
<text class="yt" x="14.50" y="279.67">-2</text>
<text class="yt" x="14.50" y="297.33">-3</text>
<text class="yt" x="14.50" y="314.99">-4</text>
<text class="yt" x="14.50" y="332.65">-5</text>
<path class="tk" d="M17.20 242.40h-1.5M17.20 260.06h-1.5M17.20 277.72h-1.5M17.20 295.38h-1.5M17.20 313.04h-1.5M17.20 330.70h-1.5"/>
<path class="tk" d="M19.60 334.85v1.5M23.59 334.85v1.5M27.59 334.85v1.5M31.59 334.85v1.5M35.58 334.85v1.5M39.58 334.85v1.5M43.58 334.85v1.5M47.57 334.85v1.5M51.57 334.85v1.5M55.57 334.85v1.5M59.56 334.85v1.5M63.56 334.85v1.5M67.56 334.85v1.5M71.55 334.85v1.5M75.55 334.85v1.5M79.55 334.85v1.5M83.55 334.85v1.5M87.54 334.85v1.5M91.54 334.85v1.5M95.54 334.85v1.5M99.53 334.85v1.5M103.53 334.85v1.5M107.53 334.85v1.5M111.52 334.85v1.5M115.52 334.85v1.5M119.52 334.85v1.5M123.51 334.85v1.5M127.51 334.85v1.5M131.51 334.85v1.5M135.50 334.85v1.5"/>
<text class="xt" transform="translate(22.15 337.85) rotate(-90)">Ammoniphilus</text>
<text class="xt" transform="translate(26.14 337.85) rotate(-90)">Amphibacillus</text>
<text class="xt" transform="translate(30.14 337.85) rotate(-90)">Aneurinibacillus</text>
<text class="xt" transform="translate(34.14 337.85) rotate(-90)">Anoxybacillus</text>
<text class="xt" transform="translate(38.13 337.85) rotate(-90)">Bacillus</text>
<text class="xt" transform="translate(42.13 337.85) rotate(-90)">Brevibacillus</text>
<text class="xt" transform="translate(46.13 337.85) rotate(-90)">Caloramator</text>
<text class="xt" transform="translate(50.12 337.85) rotate(-90)">Cerasibacillus</text>
<text class="xt" transform="translate(54.12 337.85) rotate(-90)">Clostridium</text>
<text class="xt" transform="translate(58.12 337.85) rotate(-90)">Cohnella</text>
<text class="xt" transform="translate(62.11 337.85) rotate(-90)">Desulfotomaculum</text>
<text class="xt" transform="translate(66.11 337.85) rotate(-90)">Filifactor</text>
<text class="xt" transform="translate(70.11 337.85) rotate(-90)">Geobacillus</text>
<text class="xt" transform="translate(74.10 337.85) rotate(-90)">Gracilibacillus</text>
<text class="xt" transform="translate(78.10 337.85) rotate(-90)">Halobacillus</text>
<text class="xt" transform="translate(82.10 337.85) rotate(-90)">Lentibacillus</text>
<text class="xt" transform="translate(86.10 337.85) rotate(-90)">Lysinibacillus</text>
<text class="xt" transform="translate(90.09 337.85) rotate(-90)">Oceanobacillus</text>
<text class="xt" transform="translate(94.09 337.85) rotate(-90)">Ornithinibacillus</text>
<text class="xt" transform="translate(98.09 337.85) rotate(-90)">Oxalophagus</text>
<text class="xt" transform="translate(102.08 337.85) rotate(-90)">Paenibacillus</text>
<text class="xt" transform="translate(106.08 337.85) rotate(-90)">Paraliobacillus</text>
<text class="xt" transform="translate(110.08 337.85) rotate(-90)">Pasteuria</text>
<text class="xt" transform="translate(114.07 337.85) rotate(-90)">Pontibacillus</text>
<text class="xt" transform="translate(118.07 337.85) rotate(-90)">Propionispora</text>
<text class="xt" transform="translate(122.07 337.85) rotate(-90)">Sporacetigenium</text>
<text class="xt" transform="translate(126.06 337.85) rotate(-90)">Sporolactobacillus</text>
<text class="xt" transform="translate(130.06 337.85) rotate(-90)">Sporosarcina</text>
<text class="xt" transform="translate(134.06 337.85) rotate(-90)">Thermoactinomyces</text>
<text class="xt" transform="translate(138.05 337.85) rotate(-90)">Virgibacillus</text>
</g>
<g>
<rect x="140.57" y="240.85" width="120.70" height="94.00" fill="#fff"/>
<path class="gm" d="M140.57 251.23h120.70M140.57 268.89h120.70M140.57 286.55h120.70M140.57 304.21h120.70M140.57 321.87h120.70"/>
<path class="gM" d="M140.57 242.40h120.70M140.57 260.06h120.70M140.57 277.72h120.70M140.57 295.38h120.70M140.57 313.04h120.70M140.57 330.70h120.70M142.97 240.85v94.00M146.96 240.85v94.00M150.96 240.85v94.00M154.96 240.85v94.00M158.95 240.85v94.00M162.95 240.85v94.00M166.95 240.85v94.00M170.94 240.85v94.00M174.94 240.85v94.00M178.94 240.85v94.00M182.93 240.85v94.00M186.93 240.85v94.00M190.93 240.85v94.00M194.92 240.85v94.00M198.92 240.85v94.00M202.92 240.85v94.00M206.92 240.85v94.00M210.91 240.85v94.00M214.91 240.85v94.00M218.91 240.85v94.00M222.90 240.85v94.00M226.90 240.85v94.00M230.90 240.85v94.00M234.89 240.85v94.00M238.89 240.85v94.00M242.89 240.85v94.00M246.88 240.85v94.00M250.88 240.85v94.00M254.88 240.85v94.00M258.87 240.85v94.00"/>
<path class="lg" d="M140.57 242.40h4.60M140.57 254.74h1.55M140.57 251.63h1.55M140.57 249.43h1.55M140.57 247.72h3.10M140.57 246.32h1.55M140.57 245.14h1.55M140.57 244.11h1.55M140.57 243.21h1.55M140.57 260.06h4.60M140.57 272.40h1.55M140.57 269.29h1.55M140.57 267.09h1.55M140.57 265.38h3.10M140.57 263.98h1.55M140.57 262.80h1.55M140.57 261.77h1.55M140.57 260.87h1.55M140.57 277.72h4.60M140.57 290.06h1.55M140.57 286.95h1.55M140.57 284.75h1.55M140.57 283.04h3.10M140.57 281.64h1.55M140.57 280.46h1.55M140.57 279.43h1.55M140.57 278.53h1.55M140.57 295.38h4.60M140.57 307.72h1.55M140.57 304.61h1.55M140.57 302.41h1.55M140.57 300.70h3.10M140.57 299.30h1.55M140.57 298.12h1.55M140.57 297.09h1.55M140.57 296.19h1.55M140.57 313.04h4.60M140.57 325.38h1.55M140.57 322.27h1.55M140.57 320.07h1.55M140.57 318.36h3.10M140.57 316.96h1.55M140.57 315.78h1.55M140.57 314.75h1.55M140.57 313.85h1.55M140.57 330.70h4.60M140.57 334.62h1.55M140.57 333.44h1.55M140.57 332.41h1.55M140.57 331.51h1.55"/>
<path class="wh" d="M150.96 290.60V291.10M150.96 309.50V319.30"/>
<rect class="bx" x="149.46" y="291.10" width="3.00" height="18.40" rx=".3"/>
<rect x="149.51" y="307.25" width="2.90" height="2.1" rx=".5" fill="#0f9a8a"/>
<path class="wh" d="M154.96 260.20V274.60M154.96 295.20V310.80"/>
<rect class="bx" x="153.46" y="274.60" width="3.00" height="20.60" rx=".3"/>
<rect x="153.51" y="286.85" width="2.90" height="2.1" rx=".5" fill="#128e92"/>
<path class="wh" d="M158.95 262.70V279.70M158.95 299.40V316.30"/>
<rect class="bx" x="157.45" y="279.70" width="3.00" height="19.70" rx=".3"/>
<rect x="157.50" y="289.95" width="2.90" height="2.1" rx=".5" fill="#49228c"/>
<path class="wh" d="M162.95 286.30V288.40M162.95 314.60V327.70"/>
<rect class="bx" x="161.45" y="288.40" width="3.00" height="26.20" rx=".3"/>
<rect x="161.50" y="304.25" width="2.90" height="2.1" rx=".5" fill="#10928f"/>
<path class="wh" d="M170.94 279.90V290.50M170.94 305.30V308.90"/>
<rect class="bx" x="169.44" y="290.50" width="3.00" height="14.80" rx=".3"/>
<rect x="169.49" y="300.25" width="2.90" height="2.1" rx=".5" fill="#10a681"/>
<path class="wh" d="M194.92 279.00V289.80M194.92 307.00V313.70"/>
<rect class="bx" x="193.42" y="289.80" width="3.00" height="17.20" rx=".3"/>
<rect x="193.47" y="293.25" width="2.90" height="2.1" rx=".5" fill="#178697"/>
<ellipse cx="198.92" cy="291.00" rx="1.65" ry="1.2" fill="#17ba6c"/>
<path class="wh" d="M202.92 278.30V291.70M202.92 303.20V308.90"/>
<rect class="bx" x="201.42" y="291.70" width="3.00" height="11.50" rx=".3"/>
<rect x="201.47" y="298.65" width="2.90" height="2.1" rx=".5" fill="#0f9f86"/>
<path class="wh" d="M206.92 289.20V289.70M206.92 308.30V311.50"/>
<rect class="bx" x="205.42" y="289.70" width="3.00" height="18.60" rx=".3"/>
<rect x="205.47" y="297.45" width="2.90" height="2.1" rx=".5" fill="#10a681"/>
<path class="wh" d="M210.91 262.50V274.60M210.91 300.00V311.50"/>
<rect class="bx" x="209.41" y="274.60" width="3.00" height="25.40" rx=".3"/>
<rect x="209.46" y="287.75" width="2.90" height="2.1" rx=".5" fill="#3a459c"/>
<ellipse cx="218.91" cy="295.50" rx="1.65" ry="1.2" fill="#18b870"/>
<path class="wh" d="M222.90 281.20V289.70M222.90 303.20V317.60"/>
<rect class="bx" x="221.40" y="289.70" width="3.00" height="13.50" rx=".3"/>
<rect x="221.45" y="294.75" width="2.90" height="2.1" rx=".5" fill="#1f7aa0"/>
<ellipse cx="226.90" cy="311.50" rx="1.65" ry="1.2" fill="#12ac7c"/>
<path class="wh" d="M250.88 288.20V290.90M250.88 306.10V318.80"/>
<rect class="bx" x="249.38" y="290.90" width="3.00" height="15.20" rx=".3"/>
<rect x="249.43" y="297.05" width="2.90" height="2.1" rx=".5" fill="#10928f"/>
<ellipse cx="254.88" cy="306.60" rx="1.65" ry="1.2" fill="#17ba6c"/>
<path class="wh" d="M258.87 257.40V268.80M258.87 306.40V324.20"/>
<rect class="bx" x="257.37" y="268.80" width="3.00" height="37.60" rx=".3"/>
<rect x="257.42" y="286.45" width="2.90" height="2.1" rx=".5" fill="#33539e"/>
<path d="M140.57 295.38h120.70" stroke="#000" stroke-width=".58" stroke-dasharray=".58 1.74" fill="none"/>
<rect x="140.57" y="240.85" width="120.70" height="94.00" fill="none" stroke="#333" stroke-width=".36"/>
<rect x="140.57" y="226.35" width="120.70" height="14.50" fill="#d9d9d9" stroke="#333" stroke-width=".36"/>
<text class="st" x="200.92" y="235.20">Seasoning, sauces and condiments</text>
<path class="tk" d="M142.97 334.85v1.5M146.96 334.85v1.5M150.96 334.85v1.5M154.96 334.85v1.5M158.95 334.85v1.5M162.95 334.85v1.5M166.95 334.85v1.5M170.94 334.85v1.5M174.94 334.85v1.5M178.94 334.85v1.5M182.93 334.85v1.5M186.93 334.85v1.5M190.93 334.85v1.5M194.92 334.85v1.5M198.92 334.85v1.5M202.92 334.85v1.5M206.92 334.85v1.5M210.91 334.85v1.5M214.91 334.85v1.5M218.91 334.85v1.5M222.90 334.85v1.5M226.90 334.85v1.5M230.90 334.85v1.5M234.89 334.85v1.5M238.89 334.85v1.5M242.89 334.85v1.5M246.88 334.85v1.5M250.88 334.85v1.5M254.88 334.85v1.5M258.87 334.85v1.5"/>
<text class="xt" transform="translate(145.52 337.85) rotate(-90)">Ammoniphilus</text>
<text class="xt" transform="translate(149.51 337.85) rotate(-90)">Amphibacillus</text>
<text class="xt" transform="translate(153.51 337.85) rotate(-90)">Aneurinibacillus</text>
<text class="xt" transform="translate(157.51 337.85) rotate(-90)">Anoxybacillus</text>
<text class="xt" transform="translate(161.50 337.85) rotate(-90)">Bacillus</text>
<text class="xt" transform="translate(165.50 337.85) rotate(-90)">Brevibacillus</text>
<text class="xt" transform="translate(169.50 337.85) rotate(-90)">Caloramator</text>
<text class="xt" transform="translate(173.49 337.85) rotate(-90)">Cerasibacillus</text>
<text class="xt" transform="translate(177.49 337.85) rotate(-90)">Clostridium</text>
<text class="xt" transform="translate(181.49 337.85) rotate(-90)">Cohnella</text>
<text class="xt" transform="translate(185.48 337.85) rotate(-90)">Desulfotomaculum</text>
<text class="xt" transform="translate(189.48 337.85) rotate(-90)">Filifactor</text>
<text class="xt" transform="translate(193.48 337.85) rotate(-90)">Geobacillus</text>
<text class="xt" transform="translate(197.47 337.85) rotate(-90)">Gracilibacillus</text>
<text class="xt" transform="translate(201.47 337.85) rotate(-90)">Halobacillus</text>
<text class="xt" transform="translate(205.47 337.85) rotate(-90)">Lentibacillus</text>
<text class="xt" transform="translate(209.47 337.85) rotate(-90)">Lysinibacillus</text>
<text class="xt" transform="translate(213.46 337.85) rotate(-90)">Oceanobacillus</text>
<text class="xt" transform="translate(217.46 337.85) rotate(-90)">Ornithinibacillus</text>
<text class="xt" transform="translate(221.46 337.85) rotate(-90)">Oxalophagus</text>
<text class="xt" transform="translate(225.45 337.85) rotate(-90)">Paenibacillus</text>
<text class="xt" transform="translate(229.45 337.85) rotate(-90)">Paraliobacillus</text>
<text class="xt" transform="translate(233.45 337.85) rotate(-90)">Pasteuria</text>
<text class="xt" transform="translate(237.44 337.85) rotate(-90)">Pontibacillus</text>
<text class="xt" transform="translate(241.44 337.85) rotate(-90)">Propionispora</text>
<text class="xt" transform="translate(245.44 337.85) rotate(-90)">Sporacetigenium</text>
<text class="xt" transform="translate(249.43 337.85) rotate(-90)">Sporolactobacillus</text>
<text class="xt" transform="translate(253.43 337.85) rotate(-90)">Sporosarcina</text>
<text class="xt" transform="translate(257.43 337.85) rotate(-90)">Thermoactinomyces</text>
<text class="xt" transform="translate(261.42 337.85) rotate(-90)">Virgibacillus</text>
</g>
<g>
<rect x="263.94" y="240.85" width="120.70" height="94.00" fill="#fff"/>
<path class="gm" d="M263.94 251.23h120.70M263.94 268.89h120.70M263.94 286.55h120.70M263.94 304.21h120.70M263.94 321.87h120.70"/>
<path class="gM" d="M263.94 242.40h120.70M263.94 260.06h120.70M263.94 277.72h120.70M263.94 295.38h120.70M263.94 313.04h120.70M263.94 330.70h120.70M266.34 240.85v94.00M270.33 240.85v94.00M274.33 240.85v94.00M278.33 240.85v94.00M282.32 240.85v94.00M286.32 240.85v94.00M290.32 240.85v94.00M294.31 240.85v94.00M298.31 240.85v94.00M302.31 240.85v94.00M306.30 240.85v94.00M310.30 240.85v94.00M314.30 240.85v94.00M318.29 240.85v94.00M322.29 240.85v94.00M326.29 240.85v94.00M330.29 240.85v94.00M334.28 240.85v94.00M338.28 240.85v94.00M342.28 240.85v94.00M346.27 240.85v94.00M350.27 240.85v94.00M354.27 240.85v94.00M358.26 240.85v94.00M362.26 240.85v94.00M366.26 240.85v94.00M370.25 240.85v94.00M374.25 240.85v94.00M378.25 240.85v94.00M382.24 240.85v94.00"/>
<path class="lg" d="M263.94 242.40h4.60M263.94 254.74h1.55M263.94 251.63h1.55M263.94 249.43h1.55M263.94 247.72h3.10M263.94 246.32h1.55M263.94 245.14h1.55M263.94 244.11h1.55M263.94 243.21h1.55M263.94 260.06h4.60M263.94 272.40h1.55M263.94 269.29h1.55M263.94 267.09h1.55M263.94 265.38h3.10M263.94 263.98h1.55M263.94 262.80h1.55M263.94 261.77h1.55M263.94 260.87h1.55M263.94 277.72h4.60M263.94 290.06h1.55M263.94 286.95h1.55M263.94 284.75h1.55M263.94 283.04h3.10M263.94 281.64h1.55M263.94 280.46h1.55M263.94 279.43h1.55M263.94 278.53h1.55M263.94 295.38h4.60M263.94 307.72h1.55M263.94 304.61h1.55M263.94 302.41h1.55M263.94 300.70h3.10M263.94 299.30h1.55M263.94 298.12h1.55M263.94 297.09h1.55M263.94 296.19h1.55M263.94 313.04h4.60M263.94 325.38h1.55M263.94 322.27h1.55M263.94 320.07h1.55M263.94 318.36h3.10M263.94 316.96h1.55M263.94 315.78h1.55M263.94 314.75h1.55M263.94 313.85h1.55M263.94 330.70h4.60M263.94 334.62h1.55M263.94 333.44h1.55M263.94 332.41h1.55M263.94 331.51h1.55"/>
<path class="wh" d="M282.32 276.70V285.10M282.32 297.60V304.00"/>
<rect class="bx" x="280.82" y="285.10" width="3.00" height="12.50" rx=".3"/>
<rect x="280.87" y="288.15" width="2.90" height="2.1" rx=".5" fill="#0f9a8a"/>
<ellipse cx="318.29" cy="310.80" rx="1.65" ry="1.2" fill="#12c458"/>
<path class="wh" d="M330.29 260.70V262.40M330.29 271.00V276.70"/>
<rect class="bx" x="328.79" y="262.40" width="3.00" height="8.60" rx=".3"/>
<rect x="328.84" y="263.45" width="2.90" height="2.1" rx=".5" fill="#10a880"/>
<circle cx="334.28" cy="284.80" r="1.2" fill="#333" fill-opacity="0.50"/>
<path class="wh" d="M334.28 297.60V298.00M334.28 304.30V306.70"/>
<rect class="bx" x="332.78" y="298.00" width="3.00" height="6.30" rx=".3"/>
<rect x="332.83" y="301.55" width="2.90" height="2.1" rx=".5" fill="#0f9a8a"/>
<path class="wh" d="M346.27 291.50V301.30M346.27 312.00V316.60"/>
<rect class="bx" x="344.77" y="301.30" width="3.00" height="10.70" rx=".3"/>
<rect x="344.82" y="303.85" width="2.90" height="2.1" rx=".5" fill="#0f9a8a"/>
<path class="wh" d="M378.25 301.80V302.20M378.25 303.90V304.30"/>
<rect class="bx" x="376.75" y="302.20" width="3.00" height="1.70" rx=".3"/>
<rect x="376.80" y="301.85" width="2.90" height="2.1" rx=".5" fill="#14af79"/>
<ellipse cx="382.24" cy="302.00" rx="1.65" ry="1.2" fill="#12c458"/>
<path d="M263.94 295.38h120.70" stroke="#000" stroke-width=".58" stroke-dasharray=".58 1.74" fill="none"/>
<rect x="263.94" y="240.85" width="120.70" height="94.00" fill="none" stroke="#333" stroke-width=".36"/>
<rect x="263.94" y="226.35" width="120.70" height="14.50" fill="#d9d9d9" stroke="#333" stroke-width=".36"/>
<text class="st" x="324.29" y="235.20">Vegetables and vegetable products</text>
<path class="tk" d="M266.34 334.85v1.5M270.33 334.85v1.5M274.33 334.85v1.5M278.33 334.85v1.5M282.32 334.85v1.5M286.32 334.85v1.5M290.32 334.85v1.5M294.31 334.85v1.5M298.31 334.85v1.5M302.31 334.85v1.5M306.30 334.85v1.5M310.30 334.85v1.5M314.30 334.85v1.5M318.29 334.85v1.5M322.29 334.85v1.5M326.29 334.85v1.5M330.29 334.85v1.5M334.28 334.85v1.5M338.28 334.85v1.5M342.28 334.85v1.5M346.27 334.85v1.5M350.27 334.85v1.5M354.27 334.85v1.5M358.26 334.85v1.5M362.26 334.85v1.5M366.26 334.85v1.5M370.25 334.85v1.5M374.25 334.85v1.5M378.25 334.85v1.5M382.24 334.85v1.5"/>
<text class="xt" transform="translate(268.89 337.85) rotate(-90)">Ammoniphilus</text>
<text class="xt" transform="translate(272.88 337.85) rotate(-90)">Amphibacillus</text>
<text class="xt" transform="translate(276.88 337.85) rotate(-90)">Aneurinibacillus</text>
<text class="xt" transform="translate(280.88 337.85) rotate(-90)">Anoxybacillus</text>
<text class="xt" transform="translate(284.87 337.85) rotate(-90)">Bacillus</text>
<text class="xt" transform="translate(288.87 337.85) rotate(-90)">Brevibacillus</text>
<text class="xt" transform="translate(292.87 337.85) rotate(-90)">Caloramator</text>
<text class="xt" transform="translate(296.86 337.85) rotate(-90)">Cerasibacillus</text>
<text class="xt" transform="translate(300.86 337.85) rotate(-90)">Clostridium</text>
<text class="xt" transform="translate(304.86 337.85) rotate(-90)">Cohnella</text>
<text class="xt" transform="translate(308.85 337.85) rotate(-90)">Desulfotomaculum</text>
<text class="xt" transform="translate(312.85 337.85) rotate(-90)">Filifactor</text>
<text class="xt" transform="translate(316.85 337.85) rotate(-90)">Geobacillus</text>
<text class="xt" transform="translate(320.84 337.85) rotate(-90)">Gracilibacillus</text>
<text class="xt" transform="translate(324.84 337.85) rotate(-90)">Halobacillus</text>
<text class="xt" transform="translate(328.84 337.85) rotate(-90)">Lentibacillus</text>
<text class="xt" transform="translate(332.84 337.85) rotate(-90)">Lysinibacillus</text>
<text class="xt" transform="translate(336.83 337.85) rotate(-90)">Oceanobacillus</text>
<text class="xt" transform="translate(340.83 337.85) rotate(-90)">Ornithinibacillus</text>
<text class="xt" transform="translate(344.83 337.85) rotate(-90)">Oxalophagus</text>
<text class="xt" transform="translate(348.82 337.85) rotate(-90)">Paenibacillus</text>
<text class="xt" transform="translate(352.82 337.85) rotate(-90)">Paraliobacillus</text>
<text class="xt" transform="translate(356.82 337.85) rotate(-90)">Pasteuria</text>
<text class="xt" transform="translate(360.81 337.85) rotate(-90)">Pontibacillus</text>
<text class="xt" transform="translate(364.81 337.85) rotate(-90)">Propionispora</text>
<text class="xt" transform="translate(368.81 337.85) rotate(-90)">Sporacetigenium</text>
<text class="xt" transform="translate(372.80 337.85) rotate(-90)">Sporolactobacillus</text>
<text class="xt" transform="translate(376.80 337.85) rotate(-90)">Sporosarcina</text>
<text class="xt" transform="translate(380.80 337.85) rotate(-90)">Thermoactinomyces</text>
<text class="xt" transform="translate(384.79 337.85) rotate(-90)">Virgibacillus</text>
</g>
<text class="at" x="262.7" y="390.9">genus</text>
<text class="at" transform="translate(7.7 176.1) rotate(-90)">log10(rel. abundance)</text>
<text class="lt" x="516.7" y="153.4">log10(prev)</text>
<rect x="516.7" y="156.80" width="9.6" height="46.80" fill="url(#vg)"/>
<path d="M516.7 157.70h1.9M526.3 157.70h-1.9" stroke="#fff" stroke-width=".35" stroke-opacity=".6"/>
<text class="ll" x="529.0" y="159.40">2</text>
<path d="M516.7 173.20h1.9M526.3 173.20h-1.9" stroke="#fff" stroke-width=".35" stroke-opacity=".6"/>
<text class="ll" x="529.0" y="174.90">1</text>
<path d="M516.7 188.60h1.9M526.3 188.60h-1.9" stroke="#fff" stroke-width=".35" stroke-opacity=".6"/>
<text class="ll" x="529.0" y="190.30">0</text>
</svg></body></html>
